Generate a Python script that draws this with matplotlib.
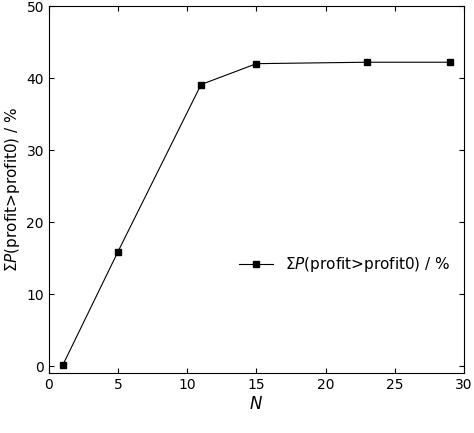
import matplotlib.pyplot as plt

n_vals = [1, 5, 11, 15, 23, 29]
prob_vals = [0.1, 15.9, 39.1, 42.0, 42.2, 42.2]

fig = plt.figure(figsize=(4.74, 4.33), dpi=100)
ax = fig.add_axes([0.103, 0.138, 0.876, 0.848])

ax.plot(n_vals, prob_vals, color="black", lw=0.8, marker="s", ms=5,
        label=r"$\Sigma P$(profit>profit0) / %")

ax.set_xlim(0, 30)
ax.set_ylim(-1, 50)
ax.set_xticks(range(0, 31, 5))
ax.set_yticks(range(0, 51, 10))
ax.tick_params(direction="in", top=True, right=True, labeltop=False,
               labelright=False, labelsize=10)
ax.set_xlabel("$N$", fontsize=12, labelpad=2)
ax.set_ylabel(r"$\Sigma P$(profit>profit0) / %", fontsize=11, labelpad=3)
ax.legend(loc="center right", bbox_to_anchor=(1.0, 0.295), frameon=False,
          fontsize=11, handlelength=2.2)

fig.savefig("out.png", dpi=100)
